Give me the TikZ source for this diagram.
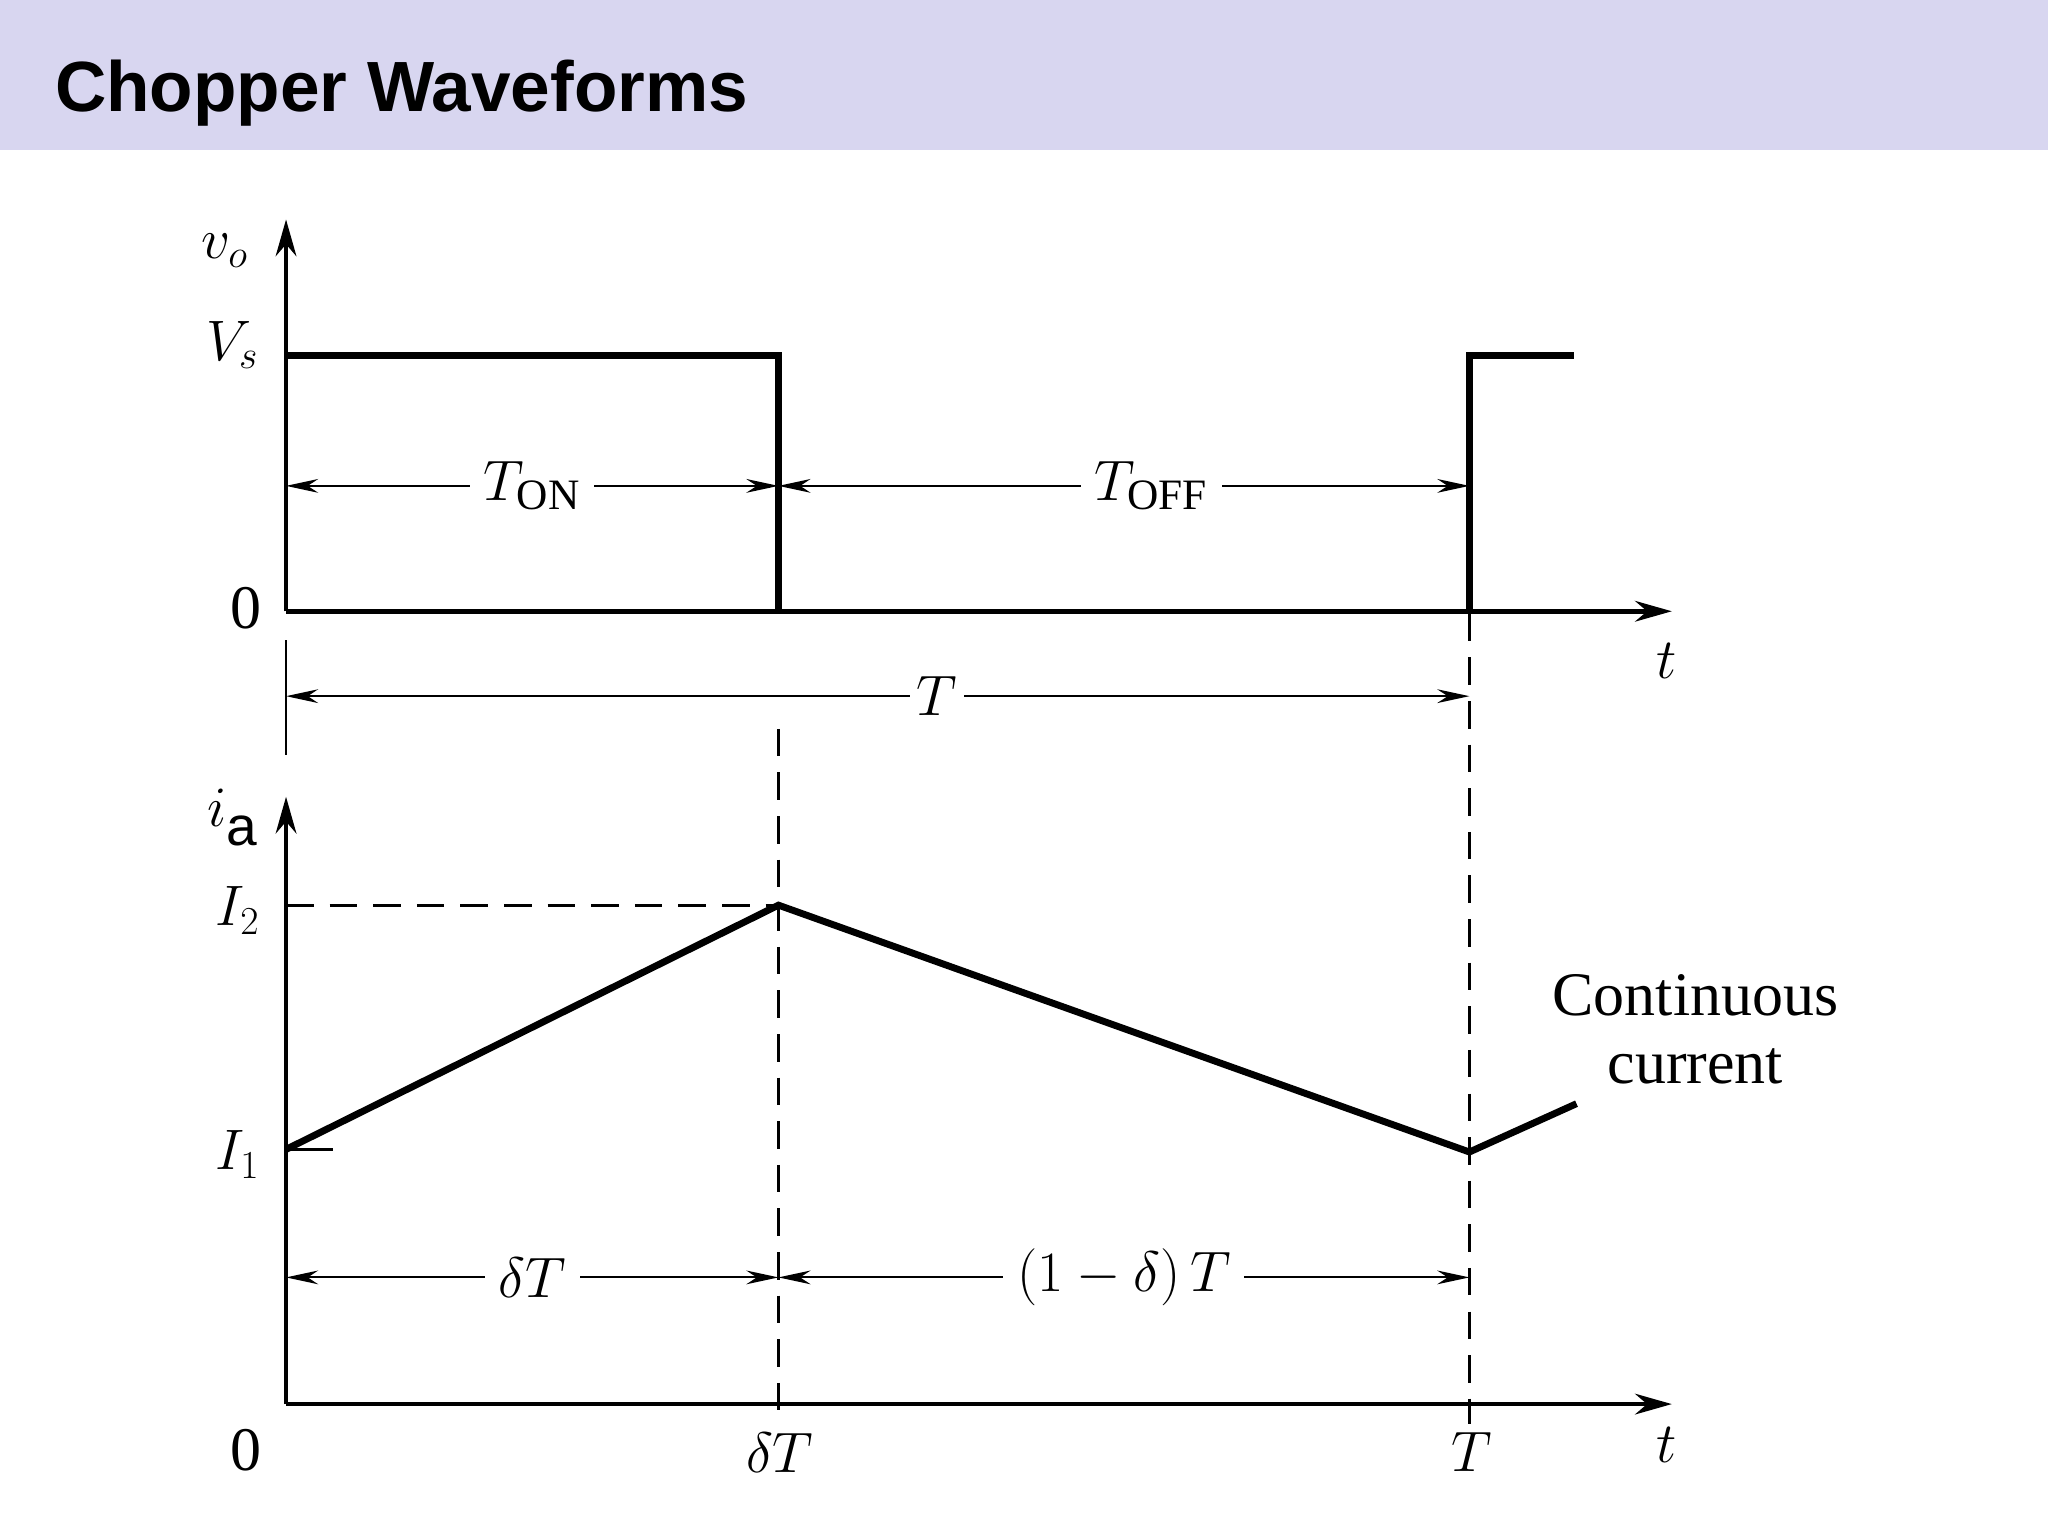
\documentclass[tikz,border=0pt]{standalone}
\usepackage{fontspec}
\setmainfont{Liberation Serif}
\setsansfont{Liberation Sans}
\usetikzlibrary{arrows.meta}
\begin{document}
\begin{tikzpicture}[x=0.02cm,y=-0.02cm,
  wave/.style={line width=3pt},
  ax/.style={line width=2pt,-{Stealth[length=16pt,width=9pt]}},
  dim/.style={line width=0.8pt,{Stealth[length=14pt,width=6pt]}-{Stealth[length=14pt,width=6pt]}},
  dsh/.style={line width=1.3pt,dash pattern=on 12pt off 7pt},
  lbl/.style={font=\fontsize{27}{30}\selectfont, inner sep=2pt},
  dl/.style={lbl,fill=white,inner sep=6pt}]
\useasboundingbox (0,0) rectangle (1568,1176);
\fill[fill={rgb,255:red,216;green,214;blue,240}] (0,0) rectangle (1568,115);
\node[anchor=base west,font=\sffamily\bfseries\fontsize{31}{34}\selectfont] (title) at (36,85) {Chopper Waveforms};
% top plot
\coordinate (o1) at (219,468);
\draw[ax] (o1) -- (219,168);
\draw[ax] (o1) -- (1280,468);
\draw[wave] (219,272) -- (596,272) -- (596,468);
\draw[wave] (1125,468) -- (1125,272) -- (1205,272);
\node[lbl] (vo) at (172,192) {$v_o$};
\node[lbl] (vs) at (178,264) {$V_s$};
\node[lbl] (z1) at (188,466) {0};
\node[lbl] (t1) at (1276,506) {$t$};
\coordinate (a1) at (219,372); \coordinate (a2) at (596,372); \coordinate (a3) at (1125,372);
\draw[dim] (a1) -- (a2) node[dl,midway,xshift=0pt] (ton) {$T_{\mathrm{ON}}$};
\draw[dim] (a2) -- (a3) node[dl,midway,xshift=12pt] (toff) {$T_{\mathrm{OFF}}$};
\draw[line width=0.8pt] (219,490) -- (219,578);
\coordinate (b1) at (219,533); \coordinate (b2) at (1125,533);
\draw[dim] (b1) -- (b2) node[dl,pos=0.55,inner sep=3pt] (T) {$T$};
\draw[dsh] (1125,470) -- (1125,1090);
\draw[dsh] (596,558) -- (596,1090);
% bottom plot
\coordinate (o2) at (219,1075);
\draw[ax] (o2) -- (219,610);
\draw[ax] (o2) -- (1280,1075);
\draw[dsh] (219,693) -- (596,693);
\draw[wave] (219,880) -- (596,693) -- (1125,882) -- (1207,845);
\draw[line width=1pt] (219,880) -- (255,880);
\node[lbl] (ia) at (178,626) {$i$\raisebox{-8pt}{\sffamily\fontsize{24}{26}\selectfont a}};
\node[lbl] (i2) at (182,697) {$I_2$};
\node[lbl] (i1) at (182,884) {$I_1$};
\node[lbl,align=center] (cc) at (1298,788) {Continuous\\current};
\coordinate (c1) at (219,978); \coordinate (c2) at (596,978); \coordinate (c3) at (1125,978);
\draw[dim] (c1) -- (c2) node[dl,midway,xshift=0pt] (dt) {$\delta T$};
\draw[dim] (c2) -- (c3) node[dl,midway,xshift=0pt] (odt) {$(1-\delta)\,T$};
\node[lbl] (z2) at (188,1110) {0};
\node[lbl] (dT) at (597,1112) {$\delta T$};
\node[lbl] (TT) at (1127,1112) {$T$};
\node[lbl] (t2) at (1276,1106) {$t$};
\end{tikzpicture}
\end{document}
